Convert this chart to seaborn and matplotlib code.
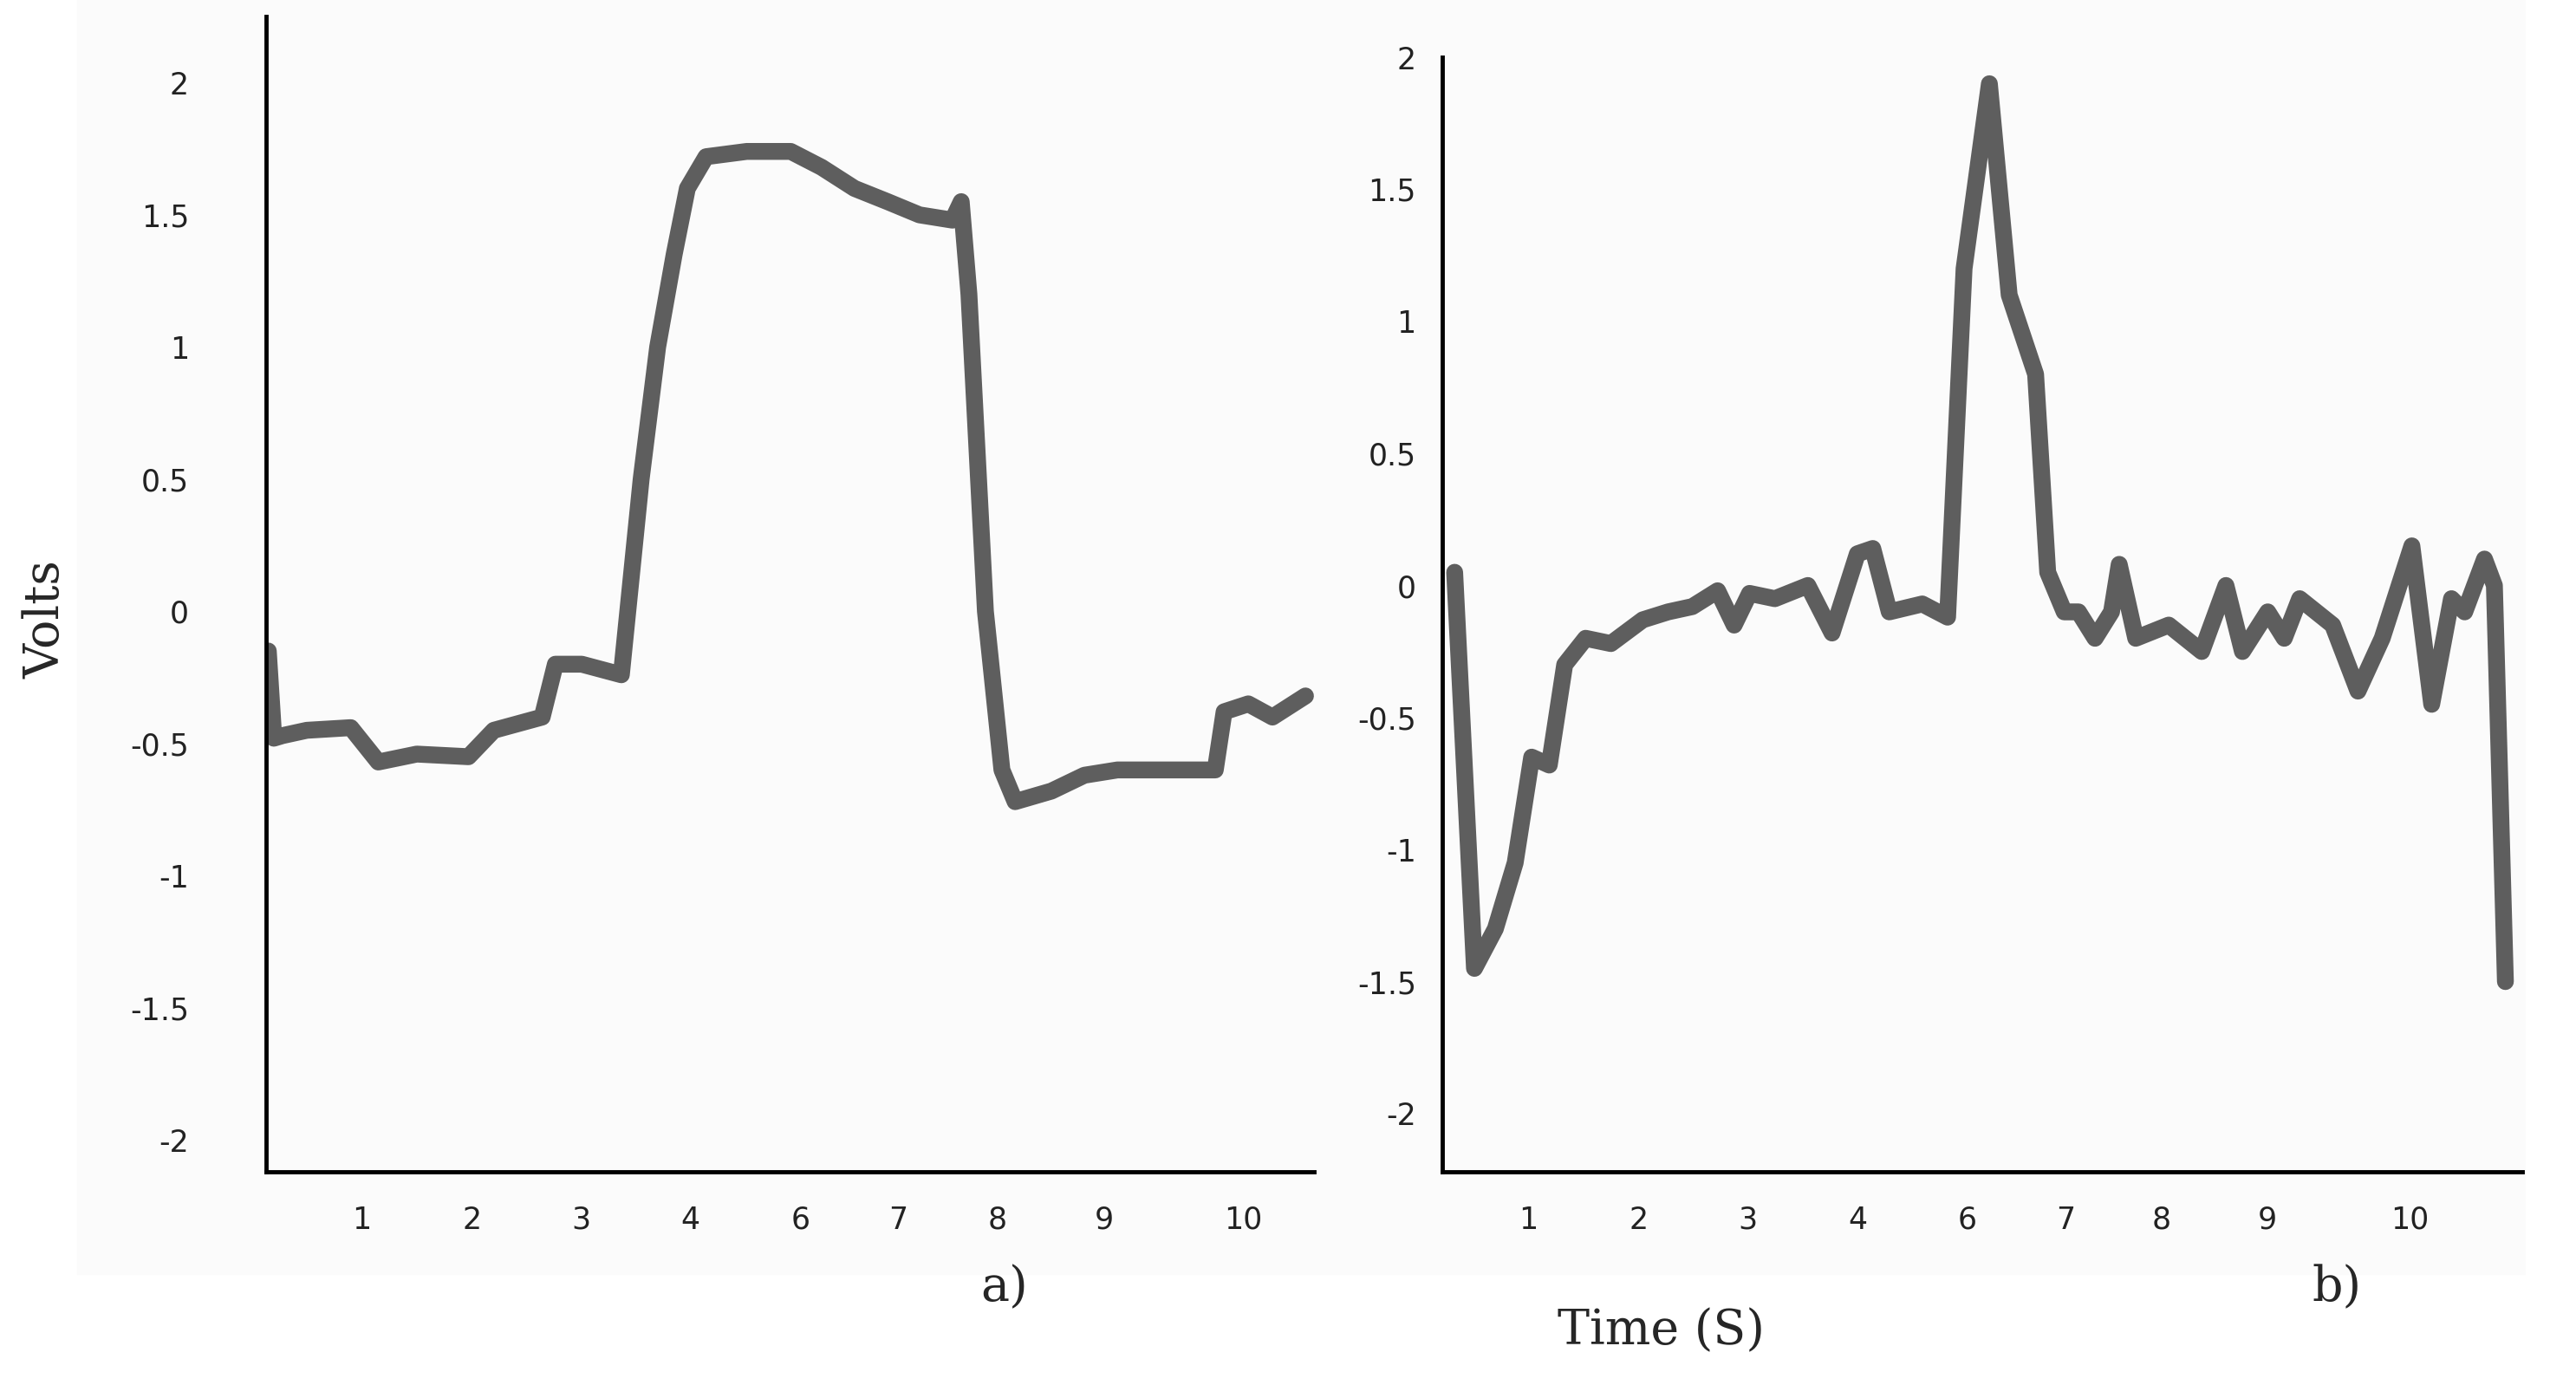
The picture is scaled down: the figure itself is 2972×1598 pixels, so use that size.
import matplotlib
matplotlib.use("Agg")
import matplotlib.pyplot as plt
import seaborn as sns
import pandas as pd

sns.set_style("white")

# Panel a)
xa = [0.15, 0.2, 0.28, 0.5, 0.9, 1.15, 1.5, 1.97, 2.2, 2.64, 2.76, 3.0, 3.36, 3.54, 3.69, 3.84,
      3.96, 4.13, 4.5, 4.9, 5.18, 5.48, 5.78, 6.07, 6.37, 6.45, 6.52, 6.67, 6.82, 6.94, 7.27,
      7.57, 7.87, 8.16, 8.5, 8.76, 8.84, 9.06, 9.28, 9.58]
ya = [-0.15, -0.48, -0.47, -0.45, -0.44, -0.57, -0.54, -0.55, -0.45, -0.4, -0.2, -0.2, -0.24,
      0.5, 1.0, 1.35, 1.6, 1.72, 1.74, 1.74, 1.68, 1.6, 1.55, 1.5, 1.48, 1.55, 1.2, 0.0,
      -0.6, -0.72, -0.68, -0.62, -0.6, -0.6, -0.6, -0.6, -0.38, -0.35, -0.4, -0.32]
ticks_a = [1, 2, 2.99, 3.99, 4.99, 5.88, 6.78, 7.75, 9.01]

# Panel b)
xb = [0.33, 0.51, 0.7, 0.88, 1.03, 1.19, 1.33, 1.52, 1.75, 2.04, 2.27, 2.49, 2.72, 2.87, 3.01,
      3.24, 3.54, 3.76, 3.99, 4.13, 4.28, 4.58, 4.81, 4.96, 5.19, 5.37, 5.61, 5.72, 5.87, 6.0,
      6.15, 6.3, 6.37, 6.52, 6.82, 7.12, 7.34, 7.49, 7.72, 7.87, 8.01, 8.31, 8.54, 8.76, 9.03,
      9.21, 9.39, 9.51, 9.69, 9.78, 9.88]
yb = [0.05, -1.45, -1.3, -1.05, -0.65, -0.68, -0.3, -0.2, -0.22, -0.13, -0.1, -0.08, -0.02,
      -0.15, -0.03, -0.05, 0.0, -0.18, 0.12, 0.14, -0.1, -0.07, -0.12, 1.2, 1.9, 1.1, 0.8,
      0.05, -0.1, -0.1, -0.2, -0.1, 0.08, -0.2, -0.15, -0.25, 0.0, -0.25, -0.1, -0.2, -0.05,
      -0.15, -0.4, -0.2, 0.15, -0.45, -0.05, -0.1, 0.1, 0.0, -1.5]
ticks_b = [1, 2, 2.99, 3.99, 4.99, 5.88, 6.75, 7.72, 9.01]

xlabels = ["1", "2", "3", "4", "6", "7", "8", "9", "10"]
yticks = [-2, -1.5, -1, -0.5, 0, 0.5, 1, 1.5, 2]
ylabels = ["-2", "-1.5", "-1", "-0.5", "0", "0.5", "1", "1.5", "2"]

bg = "#fbfbfb"
col = "#5e5e5e"
fig = plt.figure(figsize=(29.72, 15.98), dpi=100, facecolor="white")
fig.patches.append(plt.Rectangle((0.03, 0.08), 0.95, 0.92, transform=fig.transFigure,
                                 color=bg, zorder=-1))

axa = fig.add_axes([0.1033, 0.154, 0.4069, 0.834])
axb = fig.add_axes([0.56, 0.154, 0.419, 0.8046])

for ax, x, y, ticks, xl, yl, pad in [
        (axa, xa, ya, ticks_a, (0.13, 9.66), (-2.12, 2.25), 64),
        (axb, xb, yb, ticks_b, (0.22, 10.03), (-2.22, 2.0), 22)]:
    ax.set_facecolor(bg)
    sns.lineplot(data=pd.DataFrame({"t": x, "v": y}), x="t", y="v", ax=ax,
                 color=col, linewidth=14, solid_joinstyle="round")
    ax.set_xlim(*xl)
    ax.set_ylim(*yl)
    ax.set_xticks(ticks)
    ax.set_xticklabels(xlabels)
    ax.set_yticks(yticks)
    ax.set_yticklabels(ylabels)
    ax.tick_params(length=0, labelsize=25, colors="#222222")
    ax.tick_params(axis="y", pad=pad)
    ax.tick_params(axis="x", pad=28)
    ax.set_xlabel("")
    ax.set_ylabel("")
    for s in ["top", "right"]:
        ax.spines[s].set_visible(False)
    for s in ["left", "bottom"]:
        ax.spines[s].set_color("black")
        ax.spines[s].set_linewidth(3.5)

fig.text(0.39, 0.07, "a)", fontsize=40, family="DejaVu Serif", ha="center", va="center")
fig.text(0.907, 0.07, "b)", fontsize=40, family="DejaVu Serif", ha="center", va="center")
fig.text(0.645, 0.039, "Time (S)", fontsize=40, family="DejaVu Serif", ha="center", va="center")
fig.text(0.018, 0.553, "Volts", fontsize=40, family="DejaVu Serif", rotation=90,
         ha="center", va="center")

fig.savefig("out.png", dpi=100)
